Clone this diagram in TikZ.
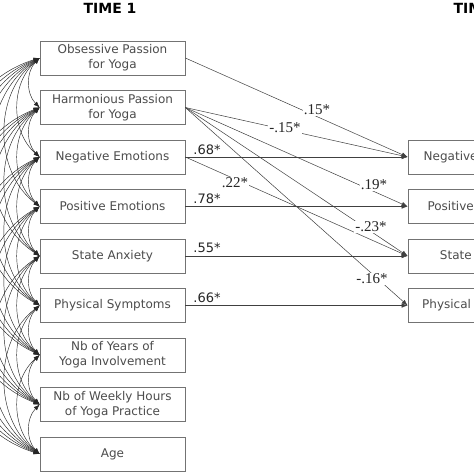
\documentclass[tikz,border=0pt]{standalone}
\usepackage{fontspec}
\setmainfont{DejaVu Sans}
\newfontfamily\numfont{Liberation Serif}
\usetikzlibrary{arrows.meta}

\begin{document}
\begin{tikzpicture}
    [x=1pt, y=-1pt,
    var/.style={draw=black!55, line width=0.7pt, minimum width=145pt, minimum height=34pt, inner sep=1pt, align=center, text=black!70, font=\fontsize{12}{15}\selectfont},
    coef/.style={fill=white, inner sep=1pt, text=black!85, font=\numfont\fontsize{15}{15}\selectfont},
    coefh/.style={inner sep=1pt, text=black!85, font=\fontsize{13}{13}\selectfont},
    link/.style={draw=black!75, line width=0.5pt, -{Latex[length=6pt,width=4.5pt]}},
    cov/.style={draw=black!85, line width=0.45pt, {Latex[length=6pt,width=4.5pt]}-{Latex[length=6pt,width=4.5pt]}}]
    \useasboundingbox (0,0) rectangle (474,474);
    \clip (0,0) rectangle (474,474);
    \fill[white] (0,0) rectangle (474,474);
    % \draw[help lines, step=50] (0,0) grid (474,474);
    \node[font=\bfseries\fontsize{14}{14}\selectfont] (t1) at (110,8) {TIME 1};
    \node[font=\bfseries\fontsize{14}{14}\selectfont] (t2) at (480,8) {TIME 2};
    %
    \node[var] (1) at (112.5,58)    {Obsessive Passion\\for Yoga};
    \node[var] (2) at (112.5,107.5) {Harmonious Passion\\for Yoga};
    \node[var] (3) at (112.5,157)   {Negative Emotions};
    \node[var] (4) at (112.5,206.5) {Positive Emotions};
    \node[var] (5) at (112.5,256)   {State Anxiety};
    \node[var] (6) at (112.5,305.5) {Physical Symptoms};
    \node[var] (7) at (112.5,355)   {Nb of Years of\\Yoga Involvement};
    \node[var] (8) at (112.5,404.5) {Nb of Weekly Hours\\of Yoga Practice};
    \node[var] (9) at (112.5,454)   {Age};
    %
    \node[var] (10) at (480.5,157)   {Negative Emotions};
    \node[var] (11) at (480.5,206.5) {Positive Emotions};
    \node[var] (12) at (480.5,256)   {State Anxiety};
    \node[var] (13) at (480.5,305.5) {Physical Symptoms};
    %
    \draw[link] (1.east) -- (10.west);
    \draw[link] (2.east) -- (10.west);
    \draw[link] (2.east) -- (11.west);
    \draw[link] (2.east) -- (12.west);
    \draw[link] (2.east) -- (13.west);
    \draw[link] (3) -- (10);
    \draw[link] (3.east) -- (12.west);
    \draw[link] (4) -- (11);
    \draw[link] (5) -- (12);
    \draw[link] (6) -- (13);
    %
    \node[coef] (r1) at (317,110) {.15*};
    \node[coef] (r2) at (285,128) {-.15*};
    \node[coefh] (r3) at (207,150) {.68*};
    \node[coef] (r4) at (235,183) {.22*};
    \node[coef] (r5) at (374,185) {.19*};
    \node[coefh] (r6) at (207,199) {.78*};
    \node[coef] (r7) at (371,227) {-.23*};
    \node[coefh] (r8) at (207,248) {.55*};
    \node[coef] (r9) at (372,279) {-.16*};
    \node[coefh] (r10) at (207,298) {.66*};
    %
    \draw[cov] (1.west) to[bend right=45] (2.west);
    \draw[cov] (1.west) to[bend right=49] (3.west);
    \draw[cov] (1.west) to[bend right=53] (4.west);
    \draw[cov] (1.west) to[bend right=57] (5.west);
    \draw[cov] (1.west) to[bend right=61] (6.west);
    \draw[cov] (1.west) to[bend right=65] (7.west);
    \draw[cov] (1.west) to[bend right=69] (8.west);
    \draw[cov] (1.west) to[bend right=73] (9.west);
    \draw[cov] (2.west) to[bend right=45] (3.west);
    \draw[cov] (2.west) to[bend right=49] (4.west);
    \draw[cov] (2.west) to[bend right=53] (5.west);
    \draw[cov] (2.west) to[bend right=57] (6.west);
    \draw[cov] (2.west) to[bend right=61] (7.west);
    \draw[cov] (2.west) to[bend right=65] (8.west);
    \draw[cov] (2.west) to[bend right=69] (9.west);
    \draw[cov] (3.west) to[bend right=45] (4.west);
    \draw[cov] (3.west) to[bend right=49] (5.west);
    \draw[cov] (3.west) to[bend right=53] (6.west);
    \draw[cov] (3.west) to[bend right=57] (7.west);
    \draw[cov] (3.west) to[bend right=61] (8.west);
    \draw[cov] (3.west) to[bend right=65] (9.west);
    \draw[cov] (4.west) to[bend right=45] (5.west);
    \draw[cov] (4.west) to[bend right=49] (6.west);
    \draw[cov] (4.west) to[bend right=53] (7.west);
    \draw[cov] (4.west) to[bend right=57] (8.west);
    \draw[cov] (4.west) to[bend right=61] (9.west);
    \draw[cov] (5.west) to[bend right=45] (6.west);
    \draw[cov] (5.west) to[bend right=49] (7.west);
    \draw[cov] (5.west) to[bend right=53] (8.west);
    \draw[cov] (5.west) to[bend right=57] (9.west);
    \draw[cov] (6.west) to[bend right=45] (7.west);
    \draw[cov] (6.west) to[bend right=49] (8.west);
    \draw[cov] (6.west) to[bend right=53] (9.west);
    \draw[cov] (7.west) to[bend right=45] (8.west);
    \draw[cov] (7.west) to[bend right=49] (9.west);
    \draw[cov] (8.west) to[bend right=45] (9.west);
\end{tikzpicture}
\end{document}
